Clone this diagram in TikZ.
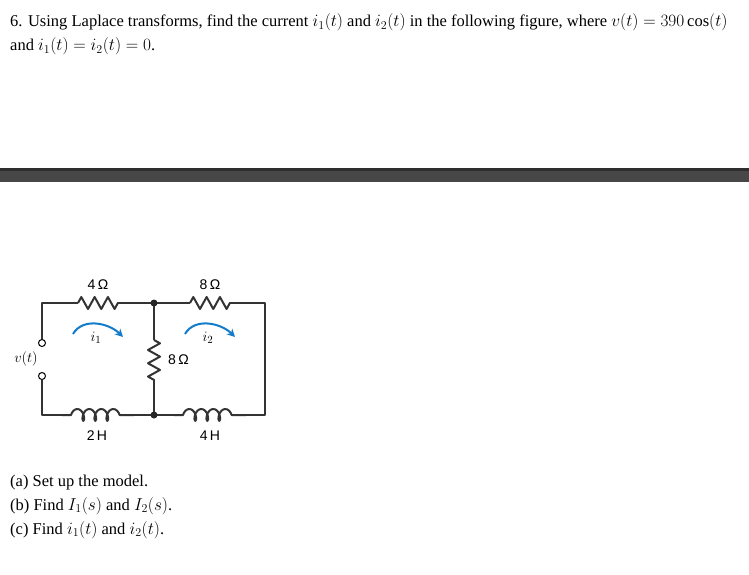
\documentclass[tikz,border=0pt]{standalone}
\usepackage{fontspec}
\setmainfont{Liberation Serif}
\newfontfamily\lab{Liberation Sans}
\usetikzlibrary{decorations.pathmorphing,arrows.meta}
\begin{document}
\begin{tikzpicture}[x=1pt,y=-1pt,
  wire/.style={line width=2pt,color=black!80,line join=round},
  res/.style={wire,decorate,decoration={zigzag,segment length=13.3pt,amplitude=6pt}},
  ind/.style={wire,decorate,decoration={coil,aspect=0.55,segment length=12pt,amplitude=6pt,pre length=9pt,post length=9pt}},
  txt/.style={anchor=base west,inner sep=0pt,font=\fontsize{16.5}{19}\selectfont},
  clab/.style={font=\lab\fontsize{14}{16}\selectfont,inner sep=1pt},
  mlab/.style={font=\fontsize{15}{17}\selectfont,inner sep=0pt},
  cur/.style={line width=2pt,color=cyan!60!blue,-{Stealth[length=8pt,width=8pt]}},
  term/.style={circle,draw,line width=1pt,fill=white,inner sep=0pt,minimum size=7pt},
  dot/.style={circle,fill=black!85,inner sep=0pt,minimum size=7pt}]
\useasboundingbox (0,0) rectangle (749,575);
\node[txt] (t1) at (10,27) {6. Using Laplace transforms, find the current $i_1(t)$ and $i_2(t)$ in the following figure, where $v(t)=390\cos(t)$};
\node[txt] (t2) at (10,51) {and $i_1(t)=i_2(t)=0$.};
\fill[black!72] (0,168) rectangle (749,182);
\fill[black!82] (0,168) rectangle (749,171);
\coordinate (tl) at (42,303); \coordinate (tm) at (154,303); \coordinate (tr) at (265,303);
\coordinate (bl) at (42,415); \coordinate (bm) at (154,415); \coordinate (br) at (265,415);
\coordinate (r1a) at (78,303); \coordinate (r1b) at (118,303);
\coordinate (r2a) at (190,303); \coordinate (r2b) at (230,303);
\coordinate (r3a) at (154,340); \coordinate (r3b) at (154,380);
\coordinate (l1a) at (62,415); \coordinate (l1b) at (134,415);
\coordinate (l2a) at (174,415); \coordinate (l2b) at (246,415);
\node[term] (pa) at (42,343) {};
\node[term] (pb) at (42,376) {};
\draw[wire] (pa) -- (tl) -- (r1a);
\draw[wire] (r1b) -- (tm) -- (r2a);
\draw[wire] (r2b) -- (tr) -- (br) -- (l2b);
\draw[wire] (l2a) -- (bm) -- (l1b);
\draw[wire] (l1a) -- (bl) -- (pb);
\draw[wire] (tm) -- (r3a); \draw[wire] (r3b) -- (bm);
\draw[res] (r1a) -- (r1b);
\draw[res] (r2a) -- (r2b);
\draw[res] (r3a) -- (r3b);
\draw[ind] (l1a) -- (l1b);
\draw[ind] (l2a) -- (l2b);
\node[dot] (d1) at (tm) {}; \node[dot] (d2) at (bm) {};
\node[clab] (lr1) at (98,285) {4\,Ω};
\node[clab] (lr2) at (210,285) {8\,Ω};
\node[clab,anchor=west] (lr3) at (167,360) {8\,Ω};
\node[clab] (ll1) at (97,436) {2\,H};
\node[clab] (ll2) at (210,436) {4\,H};
\node[mlab] (v) at (26,359) {$v(t)$};
\coordinate (a1s) at (73,334); \coordinate (a1e) at (123,337);
\coordinate (a2s) at (185,334); \coordinate (a2e) at (235,337);
\draw[cur] (a1s) to[out=60,in=135] (a1e);
\draw[cur] (a2s) to[out=60,in=135] (a2e);
\node[mlab] (i1) at (96,338) {$i_1$};
\node[mlab] (i2) at (208,338) {$i_2$};
\node[txt] (q1) at (10,486) {(a) Set up the model.};
\node[txt] (q2) at (10,510) {(b) Find $I_1(s)$ and $I_2(s)$.};
\node[txt] (q3) at (10,534) {(c) Find $i_1(t)$ and $i_2(t)$.};
\end{tikzpicture}
\end{document}
